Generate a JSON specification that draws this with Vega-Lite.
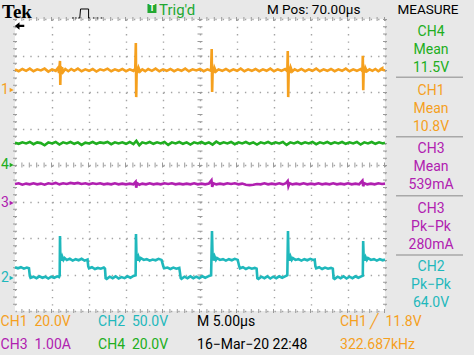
{
"$schema": "https://vega.github.io/schema/vega-lite/v6.json",
"width": 370, "height": 292,
"autosize": {"type": "none"},
"padding": {"left": 15, "top": 19, "right": 89, "bottom": 44},
"background": "#e8e8e8",
"data": {"values": [{}]},
"config": {
  "view": {"fill": "white", "stroke": null},
  "font": "Roboto",
  "legend": {"disable": true},
  "axis": {"grid": true, "labels": false, "ticks": false, "domain": false, "titleOpacity": 0, "gridColor": "#a4a4a4", "gridWidth": 1.4, "gridOpacity": 1},
  "axisX": {"tickCount": 10, "gridDash": [1.4, 5.9]},
  "axisY": {"tickCount": 8, "gridDash": [1.4, 6.0]}
},
"datasets": {
"traces": [
{"ch":"CH1","t":0,"v":2.62},{"ch":"CH1","t":0.5,"v":2.57},{"ch":"CH1","t":1.0,"v":2.63},{"ch":"CH1","t":1.5,"v":2.58},{"ch":"CH1","t":2.0,"v":2.64},{"ch":"CH1","t":2.5,"v":2.57},{"ch":"CH1","t":3.0,"v":2.62},{"ch":"CH1","t":3.5,"v":2.59},{"ch":"CH1","t":4.0,"v":2.64},{"ch":"CH1","t":4.5,"v":2.56},{"ch":"CH1","t":5.0,"v":2.62},{"ch":"CH1","t":5.5,"v":2.58},{"ch":"CH1","t":5.8,"v":2.66},{"ch":"CH1","t":5.95,"v":2.52},{"ch":"CH1","t":6.03,"v":2.72},{"ch":"CH1","t":6.08,"v":2.85},{"ch":"CH1","t":6.12,"v":2.19},{"ch":"CH1","t":6.18,"v":2.70},{"ch":"CH1","t":6.25,"v":2.50},{"ch":"CH1","t":6.35,"v":2.68},{"ch":"CH1","t":6.5,"v":2.55},{"ch":"CH1","t":6.8,"v":2.63},{"ch":"CH1","t":7.2,"v":2.57},{"ch":"CH1","t":7.6,"v":2.63},{"ch":"CH1","t":8.0,"v":2.58},{"ch":"CH1","t":8.5,"v":2.64},{"ch":"CH1","t":9.0,"v":2.57},{"ch":"CH1","t":9.5,"v":2.62},{"ch":"CH1","t":10.0,"v":2.58},{"ch":"CH1","t":10.5,"v":2.63},{"ch":"CH1","t":11.0,"v":2.56},{"ch":"CH1","t":11.5,"v":2.62},{"ch":"CH1","t":12.0,"v":2.59},{"ch":"CH1","t":12.5,"v":2.64},{"ch":"CH1","t":13.0,"v":2.57},{"ch":"CH1","t":13.5,"v":2.62},{"ch":"CH1","t":14.0,"v":2.58},{"ch":"CH1","t":14.5,"v":2.63},{"ch":"CH1","t":15.0,"v":2.57},{"ch":"CH1","t":15.5,"v":2.62},{"ch":"CH1","t":16.0,"v":2.58},{"ch":"CH1","t":16.25,"v":2.64},{"ch":"CH1","t":16.33,"v":3.34},{"ch":"CH1","t":16.38,"v":1.86},{"ch":"CH1","t":16.45,"v":2.70},{"ch":"CH1","t":16.55,"v":2.52},{"ch":"CH1","t":16.7,"v":2.66},{"ch":"CH1","t":16.9,"v":2.56},{"ch":"CH1","t":17.2,"v":2.62},{"ch":"CH1","t":17.6,"v":2.57},{"ch":"CH1","t":18.0,"v":2.63},{"ch":"CH1","t":18.5,"v":2.58},{"ch":"CH1","t":19.0,"v":2.64},{"ch":"CH1","t":19.5,"v":2.57},{"ch":"CH1","t":20.0,"v":2.62},{"ch":"CH1","t":20.5,"v":2.58},{"ch":"CH1","t":21.0,"v":2.63},{"ch":"CH1","t":21.5,"v":2.57},{"ch":"CH1","t":22.0,"v":2.62},{"ch":"CH1","t":22.5,"v":2.58},{"ch":"CH1","t":23.0,"v":2.64},{"ch":"CH1","t":23.5,"v":2.57},{"ch":"CH1","t":24.0,"v":2.62},{"ch":"CH1","t":24.5,"v":2.59},{"ch":"CH1","t":25.0,"v":2.63},{"ch":"CH1","t":25.5,"v":2.57},{"ch":"CH1","t":26.0,"v":2.62},{"ch":"CH1","t":26.5,"v":2.58},{"ch":"CH1","t":26.58,"v":3.18},{"ch":"CH1","t":26.64,"v":2.0},{"ch":"CH1","t":26.72,"v":2.69},{"ch":"CH1","t":26.82,"v":2.52},{"ch":"CH1","t":26.95,"v":2.66},{"ch":"CH1","t":27.15,"v":2.56},{"ch":"CH1","t":27.5,"v":2.62},{"ch":"CH1","t":28.0,"v":2.58},{"ch":"CH1","t":28.5,"v":2.63},{"ch":"CH1","t":29.0,"v":2.57},{"ch":"CH1","t":29.5,"v":2.62},{"ch":"CH1","t":30.0,"v":2.58},{"ch":"CH1","t":30.5,"v":2.64},{"ch":"CH1","t":31.0,"v":2.57},{"ch":"CH1","t":31.5,"v":2.62},{"ch":"CH1","t":32.0,"v":2.58},{"ch":"CH1","t":32.5,"v":2.63},{"ch":"CH1","t":33.0,"v":2.57},{"ch":"CH1","t":33.5,"v":2.62},{"ch":"CH1","t":34.0,"v":2.58},{"ch":"CH1","t":34.5,"v":2.64},{"ch":"CH1","t":35.0,"v":2.57},{"ch":"CH1","t":35.5,"v":2.62},{"ch":"CH1","t":36.0,"v":2.58},{"ch":"CH1","t":36.5,"v":2.63},{"ch":"CH1","t":36.8,"v":2.57},{"ch":"CH1","t":36.86,"v":3.12},{"ch":"CH1","t":36.92,"v":1.86},{"ch":"CH1","t":37.0,"v":2.70},{"ch":"CH1","t":37.1,"v":2.52},{"ch":"CH1","t":37.25,"v":2.67},{"ch":"CH1","t":37.45,"v":2.56},{"ch":"CH1","t":37.8,"v":2.62},{"ch":"CH1","t":38.2,"v":2.58},{"ch":"CH1","t":38.7,"v":2.63},{"ch":"CH1","t":39.2,"v":2.57},{"ch":"CH1","t":39.7,"v":2.62},{"ch":"CH1","t":40.2,"v":2.58},{"ch":"CH1","t":40.7,"v":2.64},{"ch":"CH1","t":41.2,"v":2.57},{"ch":"CH1","t":41.7,"v":2.62},{"ch":"CH1","t":42.2,"v":2.58},{"ch":"CH1","t":42.7,"v":2.63},{"ch":"CH1","t":43.2,"v":2.57},{"ch":"CH1","t":43.7,"v":2.62},{"ch":"CH1","t":44.2,"v":2.58},{"ch":"CH1","t":44.7,"v":2.64},{"ch":"CH1","t":45.2,"v":2.57},{"ch":"CH1","t":45.7,"v":2.62},{"ch":"CH1","t":46.2,"v":2.58},{"ch":"CH1","t":46.7,"v":2.63},{"ch":"CH1","t":46.95,"v":2.57},{"ch":"CH1","t":47.0,"v":2.99},{"ch":"CH1","t":47.06,"v":2.05},{"ch":"CH1","t":47.13,"v":2.69},{"ch":"CH1","t":47.22,"v":2.53},{"ch":"CH1","t":47.35,"v":2.66},{"ch":"CH1","t":47.55,"v":2.57},{"ch":"CH1","t":47.9,"v":2.62},{"ch":"CH1","t":48.3,"v":2.58},{"ch":"CH1","t":48.7,"v":2.63},{"ch":"CH1","t":49.1,"v":2.57},{"ch":"CH1","t":49.5,"v":2.62},{"ch":"CH1","t":50.0,"v":2.59},
{"ch":"CH4","t":0,"v":0.61},{"ch":"CH4","t":0.5,"v":0.58},{"ch":"CH4","t":1.0,"v":0.62},{"ch":"CH4","t":1.5,"v":0.59},{"ch":"CH4","t":2.0,"v":0.63},{"ch":"CH4","t":2.5,"v":0.57},{"ch":"CH4","t":3.0,"v":0.62},{"ch":"CH4","t":3.5,"v":0.60},{"ch":"CH4","t":4.0,"v":0.54},{"ch":"CH4","t":4.5,"v":0.62},{"ch":"CH4","t":5.0,"v":0.59},{"ch":"CH4","t":5.5,"v":0.63},{"ch":"CH4","t":6.0,"v":0.56},{"ch":"CH4","t":6.5,"v":0.62},{"ch":"CH4","t":7.0,"v":0.59},{"ch":"CH4","t":7.5,"v":0.63},{"ch":"CH4","t":8.0,"v":0.58},{"ch":"CH4","t":8.5,"v":0.62},{"ch":"CH4","t":9.0,"v":0.55},{"ch":"CH4","t":9.5,"v":0.61},{"ch":"CH4","t":10.0,"v":0.59},{"ch":"CH4","t":10.5,"v":0.63},{"ch":"CH4","t":11.0,"v":0.58},{"ch":"CH4","t":11.5,"v":0.62},{"ch":"CH4","t":12.0,"v":0.60},{"ch":"CH4","t":12.5,"v":0.63},{"ch":"CH4","t":13.0,"v":0.57},{"ch":"CH4","t":13.5,"v":0.62},{"ch":"CH4","t":14.0,"v":0.59},{"ch":"CH4","t":14.5,"v":0.62},{"ch":"CH4","t":15.0,"v":0.58},{"ch":"CH4","t":15.5,"v":0.63},{"ch":"CH4","t":16.0,"v":0.57},{"ch":"CH4","t":16.4,"v":0.66},{"ch":"CH4","t":16.8,"v":0.54},{"ch":"CH4","t":17.2,"v":0.62},{"ch":"CH4","t":17.7,"v":0.59},{"ch":"CH4","t":18.2,"v":0.63},{"ch":"CH4","t":18.7,"v":0.58},{"ch":"CH4","t":19.2,"v":0.62},{"ch":"CH4","t":19.7,"v":0.59},{"ch":"CH4","t":20.2,"v":0.63},{"ch":"CH4","t":20.7,"v":0.55},{"ch":"CH4","t":21.2,"v":0.62},{"ch":"CH4","t":21.7,"v":0.59},{"ch":"CH4","t":22.2,"v":0.63},{"ch":"CH4","t":22.7,"v":0.58},{"ch":"CH4","t":23.2,"v":0.62},{"ch":"CH4","t":23.7,"v":0.56},{"ch":"CH4","t":24.2,"v":0.62},{"ch":"CH4","t":24.7,"v":0.59},{"ch":"CH4","t":25.2,"v":0.63},{"ch":"CH4","t":25.7,"v":0.58},{"ch":"CH4","t":26.2,"v":0.62},{"ch":"CH4","t":26.7,"v":0.56},{"ch":"CH4","t":27.2,"v":0.64},{"ch":"CH4","t":27.7,"v":0.58},{"ch":"CH4","t":28.2,"v":0.62},{"ch":"CH4","t":28.7,"v":0.59},{"ch":"CH4","t":29.2,"v":0.63},{"ch":"CH4","t":29.7,"v":0.57},{"ch":"CH4","t":30.2,"v":0.62},{"ch":"CH4","t":30.7,"v":0.59},{"ch":"CH4","t":31.2,"v":0.63},{"ch":"CH4","t":31.7,"v":0.58},{"ch":"CH4","t":32.2,"v":0.62},{"ch":"CH4","t":32.7,"v":0.56},{"ch":"CH4","t":33.2,"v":0.62},{"ch":"CH4","t":33.7,"v":0.59},{"ch":"CH4","t":34.2,"v":0.63},{"ch":"CH4","t":34.7,"v":0.58},{"ch":"CH4","t":35.2,"v":0.62},{"ch":"CH4","t":35.7,"v":0.59},{"ch":"CH4","t":36.2,"v":0.63},{"ch":"CH4","t":36.7,"v":0.55},{"ch":"CH4","t":37.2,"v":0.62},{"ch":"CH4","t":37.7,"v":0.59},{"ch":"CH4","t":38.2,"v":0.63},{"ch":"CH4","t":38.7,"v":0.58},{"ch":"CH4","t":39.2,"v":0.62},{"ch":"CH4","t":39.7,"v":0.59},{"ch":"CH4","t":40.2,"v":0.63},{"ch":"CH4","t":40.7,"v":0.57},{"ch":"CH4","t":41.2,"v":0.62},{"ch":"CH4","t":41.7,"v":0.59},{"ch":"CH4","t":42.2,"v":0.63},{"ch":"CH4","t":42.7,"v":0.58},{"ch":"CH4","t":43.2,"v":0.62},{"ch":"CH4","t":43.7,"v":0.59},{"ch":"CH4","t":44.2,"v":0.63},{"ch":"CH4","t":44.7,"v":0.58},{"ch":"CH4","t":45.2,"v":0.62},{"ch":"CH4","t":45.7,"v":0.59},{"ch":"CH4","t":46.2,"v":0.63},{"ch":"CH4","t":46.7,"v":0.56},{"ch":"CH4","t":47.2,"v":0.62},{"ch":"CH4","t":47.7,"v":0.59},{"ch":"CH4","t":48.2,"v":0.63},{"ch":"CH4","t":48.7,"v":0.58},{"ch":"CH4","t":49.2,"v":0.62},{"ch":"CH4","t":49.7,"v":0.59},{"ch":"CH4","t":50.0,"v":0.61},
{"ch":"CH3","t":0,"v":-0.52},{"ch":"CH3","t":0.5,"v":-0.50},{"ch":"CH3","t":1.0,"v":-0.54},{"ch":"CH3","t":1.5,"v":-0.51},{"ch":"CH3","t":2.0,"v":-0.53},{"ch":"CH3","t":2.5,"v":-0.50},{"ch":"CH3","t":3.0,"v":-0.53},{"ch":"CH3","t":3.5,"v":-0.51},{"ch":"CH3","t":4.0,"v":-0.54},{"ch":"CH3","t":4.5,"v":-0.50},{"ch":"CH3","t":5.0,"v":-0.52},{"ch":"CH3","t":5.5,"v":-0.49},{"ch":"CH3","t":6.0,"v":-0.53},{"ch":"CH3","t":6.5,"v":-0.50},{"ch":"CH3","t":7.0,"v":-0.52},{"ch":"CH3","t":7.5,"v":-0.49},{"ch":"CH3","t":8.0,"v":-0.51},{"ch":"CH3","t":8.5,"v":-0.49},{"ch":"CH3","t":9.0,"v":-0.52},{"ch":"CH3","t":9.5,"v":-0.50},{"ch":"CH3","t":10.0,"v":-0.53},{"ch":"CH3","t":10.5,"v":-0.50},{"ch":"CH3","t":11.0,"v":-0.52},{"ch":"CH3","t":11.5,"v":-0.50},{"ch":"CH3","t":12.0,"v":-0.53},{"ch":"CH3","t":12.5,"v":-0.51},{"ch":"CH3","t":13.0,"v":-0.53},{"ch":"CH3","t":13.5,"v":-0.50},{"ch":"CH3","t":14.0,"v":-0.53},{"ch":"CH3","t":14.5,"v":-0.51},{"ch":"CH3","t":15.0,"v":-0.53},{"ch":"CH3","t":15.5,"v":-0.51},{"ch":"CH3","t":16.0,"v":-0.53},{"ch":"CH3","t":16.3,"v":-0.46},{"ch":"CH3","t":16.38,"v":-0.62},{"ch":"CH3","t":16.5,"v":-0.50},{"ch":"CH3","t":16.8,"v":-0.54},{"ch":"CH3","t":17.2,"v":-0.51},{"ch":"CH3","t":17.7,"v":-0.53},{"ch":"CH3","t":18.2,"v":-0.50},{"ch":"CH3","t":18.7,"v":-0.53},{"ch":"CH3","t":19.2,"v":-0.51},{"ch":"CH3","t":19.7,"v":-0.53},{"ch":"CH3","t":20.2,"v":-0.50},{"ch":"CH3","t":20.7,"v":-0.52},{"ch":"CH3","t":21.2,"v":-0.50},{"ch":"CH3","t":21.7,"v":-0.53},{"ch":"CH3","t":22.2,"v":-0.51},{"ch":"CH3","t":22.7,"v":-0.53},{"ch":"CH3","t":23.2,"v":-0.51},{"ch":"CH3","t":23.7,"v":-0.53},{"ch":"CH3","t":24.2,"v":-0.50},{"ch":"CH3","t":24.7,"v":-0.53},{"ch":"CH3","t":25.2,"v":-0.51},{"ch":"CH3","t":25.7,"v":-0.53},{"ch":"CH3","t":26.2,"v":-0.51},{"ch":"CH3","t":26.55,"v":-0.42},{"ch":"CH3","t":26.65,"v":-0.60},{"ch":"CH3","t":26.8,"v":-0.50},{"ch":"CH3","t":27.2,"v":-0.53},{"ch":"CH3","t":27.7,"v":-0.51},{"ch":"CH3","t":28.2,"v":-0.53},{"ch":"CH3","t":28.7,"v":-0.50},{"ch":"CH3","t":29.2,"v":-0.52},{"ch":"CH3","t":29.7,"v":-0.50},{"ch":"CH3","t":30.2,"v":-0.53},{"ch":"CH3","t":30.7,"v":-0.51},{"ch":"CH3","t":31.2,"v":-0.54},{"ch":"CH3","t":31.7,"v":-0.55},{"ch":"CH3","t":32.2,"v":-0.54},{"ch":"CH3","t":32.7,"v":-0.52},{"ch":"CH3","t":33.2,"v":-0.53},{"ch":"CH3","t":33.7,"v":-0.50},{"ch":"CH3","t":34.2,"v":-0.53},{"ch":"CH3","t":34.7,"v":-0.51},{"ch":"CH3","t":35.2,"v":-0.53},{"ch":"CH3","t":35.7,"v":-0.50},{"ch":"CH3","t":36.2,"v":-0.53},{"ch":"CH3","t":36.6,"v":-0.50},{"ch":"CH3","t":36.85,"v":-0.44},{"ch":"CH3","t":36.95,"v":-0.58},{"ch":"CH3","t":37.1,"v":-0.50},{"ch":"CH3","t":37.5,"v":-0.53},{"ch":"CH3","t":38.0,"v":-0.51},{"ch":"CH3","t":38.5,"v":-0.53},{"ch":"CH3","t":39.0,"v":-0.50},{"ch":"CH3","t":39.5,"v":-0.53},{"ch":"CH3","t":40.0,"v":-0.51},{"ch":"CH3","t":40.5,"v":-0.53},{"ch":"CH3","t":41.0,"v":-0.50},{"ch":"CH3","t":41.5,"v":-0.53},{"ch":"CH3","t":42.0,"v":-0.51},{"ch":"CH3","t":42.5,"v":-0.53},{"ch":"CH3","t":43.0,"v":-0.50},{"ch":"CH3","t":43.5,"v":-0.53},{"ch":"CH3","t":44.0,"v":-0.51},{"ch":"CH3","t":44.5,"v":-0.53},{"ch":"CH3","t":45.0,"v":-0.50},{"ch":"CH3","t":45.5,"v":-0.53},{"ch":"CH3","t":46.0,"v":-0.51},{"ch":"CH3","t":46.5,"v":-0.53},{"ch":"CH3","t":46.95,"v":-0.43},{"ch":"CH3","t":47.05,"v":-0.58},{"ch":"CH3","t":47.2,"v":-0.50},{"ch":"CH3","t":47.6,"v":-0.53},{"ch":"CH3","t":48.1,"v":-0.51},{"ch":"CH3","t":48.6,"v":-0.53},{"ch":"CH3","t":49.1,"v":-0.50},{"ch":"CH3","t":49.6,"v":-0.52},{"ch":"CH3","t":50.0,"v":-0.51},
{"ch":"CH2","t":0,"v":-2.80},{"ch":"CH2","t":0.4,"v":-2.83},{"ch":"CH2","t":0.8,"v":-2.80},{"ch":"CH2","t":1.2,"v":-2.84},{"ch":"CH2","t":1.6,"v":-2.81},{"ch":"CH2","t":1.89,"v":-2.83},{"ch":"CH2","t":2.0,"v":-3.04},{"ch":"CH2","t":2.1,"v":-3.09},{"ch":"CH2","t":2.5,"v":-3.06},{"ch":"CH2","t":2.9,"v":-3.10},{"ch":"CH2","t":3.3,"v":-3.05},{"ch":"CH2","t":3.7,"v":-3.09},{"ch":"CH2","t":4.1,"v":-3.06},{"ch":"CH2","t":4.5,"v":-3.11},{"ch":"CH2","t":4.9,"v":-3.06},{"ch":"CH2","t":5.3,"v":-3.09},{"ch":"CH2","t":5.7,"v":-3.05},{"ch":"CH2","t":5.95,"v":-3.07},{"ch":"CH2","t":6.04,"v":-3.02},{"ch":"CH2","t":6.08,"v":-1.945},{"ch":"CH2","t":6.13,"v":-2.55},{"ch":"CH2","t":6.2,"v":-2.45},{"ch":"CH2","t":6.3,"v":-2.62},{"ch":"CH2","t":6.4,"v":-2.52},{"ch":"CH2","t":6.55,"v":-2.60},{"ch":"CH2","t":6.7,"v":-2.55},{"ch":"CH2","t":7.0,"v":-2.60},{"ch":"CH2","t":7.4,"v":-2.57},{"ch":"CH2","t":7.8,"v":-2.62},{"ch":"CH2","t":8.2,"v":-2.58},{"ch":"CH2","t":8.6,"v":-2.61},{"ch":"CH2","t":9.0,"v":-2.57},{"ch":"CH2","t":9.4,"v":-2.62},{"ch":"CH2","t":9.8,"v":-2.59},{"ch":"CH2","t":9.9,"v":-2.78},{"ch":"CH2","t":10.0,"v":-2.83},{"ch":"CH2","t":10.4,"v":-2.80},{"ch":"CH2","t":10.8,"v":-2.85},{"ch":"CH2","t":11.2,"v":-2.82},{"ch":"CH2","t":11.6,"v":-2.84},{"ch":"CH2","t":12.0,"v":-2.81},{"ch":"CH2","t":12.16,"v":-2.84},{"ch":"CH2","t":12.25,"v":-3.10},{"ch":"CH2","t":12.4,"v":-3.12},{"ch":"CH2","t":12.8,"v":-3.06},{"ch":"CH2","t":13.2,"v":-3.10},{"ch":"CH2","t":13.6,"v":-3.05},{"ch":"CH2","t":14.0,"v":-3.11},{"ch":"CH2","t":14.4,"v":-3.07},{"ch":"CH2","t":14.8,"v":-3.10},{"ch":"CH2","t":15.2,"v":-3.05},{"ch":"CH2","t":15.6,"v":-3.09},{"ch":"CH2","t":16.0,"v":-3.04},{"ch":"CH2","t":16.3,"v":-3.02},{"ch":"CH2","t":16.35,"v":-1.89},{"ch":"CH2","t":16.42,"v":-2.56},{"ch":"CH2","t":16.5,"v":-2.44},{"ch":"CH2","t":16.6,"v":-2.62},{"ch":"CH2","t":16.7,"v":-2.52},{"ch":"CH2","t":16.85,"v":-2.60},{"ch":"CH2","t":17.0,"v":-2.55},{"ch":"CH2","t":17.4,"v":-2.60},{"ch":"CH2","t":17.8,"v":-2.58},{"ch":"CH2","t":18.2,"v":-2.62},{"ch":"CH2","t":18.6,"v":-2.59},{"ch":"CH2","t":19.0,"v":-2.61},{"ch":"CH2","t":19.4,"v":-2.57},{"ch":"CH2","t":19.8,"v":-2.60},{"ch":"CH2","t":20.05,"v":-2.78},{"ch":"CH2","t":20.15,"v":-2.83},{"ch":"CH2","t":20.6,"v":-2.81},{"ch":"CH2","t":21.0,"v":-2.85},{"ch":"CH2","t":21.4,"v":-2.81},{"ch":"CH2","t":21.8,"v":-2.84},{"ch":"CH2","t":22.2,"v":-2.82},{"ch":"CH2","t":22.4,"v":-3.10},{"ch":"CH2","t":22.5,"v":-3.12},{"ch":"CH2","t":22.9,"v":-3.06},{"ch":"CH2","t":23.3,"v":-3.10},{"ch":"CH2","t":23.7,"v":-3.05},{"ch":"CH2","t":24.1,"v":-3.10},{"ch":"CH2","t":24.5,"v":-3.06},{"ch":"CH2","t":24.9,"v":-3.10},{"ch":"CH2","t":25.3,"v":-3.05},{"ch":"CH2","t":25.7,"v":-3.09},{"ch":"CH2","t":26.1,"v":-3.05},{"ch":"CH2","t":26.5,"v":-3.02},{"ch":"CH2","t":26.62,"v":-1.81},{"ch":"CH2","t":26.7,"v":-2.55},{"ch":"CH2","t":26.78,"v":-2.42},{"ch":"CH2","t":26.9,"v":-2.62},{"ch":"CH2","t":27.0,"v":-2.52},{"ch":"CH2","t":27.15,"v":-2.60},{"ch":"CH2","t":27.3,"v":-2.55},{"ch":"CH2","t":27.7,"v":-2.60},{"ch":"CH2","t":28.1,"v":-2.58},{"ch":"CH2","t":28.5,"v":-2.62},{"ch":"CH2","t":28.9,"v":-2.58},{"ch":"CH2","t":29.3,"v":-2.61},{"ch":"CH2","t":29.7,"v":-2.57},{"ch":"CH2","t":30.1,"v":-2.60},{"ch":"CH2","t":30.3,"v":-2.78},{"ch":"CH2","t":30.4,"v":-2.83},{"ch":"CH2","t":30.8,"v":-2.80},{"ch":"CH2","t":31.2,"v":-2.85},{"ch":"CH2","t":31.6,"v":-2.81},{"ch":"CH2","t":32.0,"v":-2.84},{"ch":"CH2","t":32.4,"v":-2.82},{"ch":"CH2","t":32.65,"v":-2.84},{"ch":"CH2","t":32.75,"v":-3.10},{"ch":"CH2","t":32.9,"v":-3.12},{"ch":"CH2","t":33.3,"v":-3.06},{"ch":"CH2","t":33.7,"v":-3.10},{"ch":"CH2","t":34.1,"v":-3.05},{"ch":"CH2","t":34.5,"v":-3.11},{"ch":"CH2","t":34.9,"v":-3.06},{"ch":"CH2","t":35.3,"v":-3.10},{"ch":"CH2","t":35.7,"v":-3.05},{"ch":"CH2","t":36.1,"v":-3.09},{"ch":"CH2","t":36.5,"v":-3.05},{"ch":"CH2","t":36.8,"v":-3.02},{"ch":"CH2","t":36.89,"v":-1.81},{"ch":"CH2","t":36.96,"v":-2.55},{"ch":"CH2","t":37.05,"v":-2.43},{"ch":"CH2","t":37.15,"v":-2.62},{"ch":"CH2","t":37.25,"v":-2.52},{"ch":"CH2","t":37.4,"v":-2.60},{"ch":"CH2","t":37.55,"v":-2.55},{"ch":"CH2","t":37.9,"v":-2.60},{"ch":"CH2","t":38.3,"v":-2.58},{"ch":"CH2","t":38.7,"v":-2.62},{"ch":"CH2","t":39.1,"v":-2.58},{"ch":"CH2","t":39.5,"v":-2.61},{"ch":"CH2","t":39.9,"v":-2.57},{"ch":"CH2","t":40.3,"v":-2.60},{"ch":"CH2","t":40.5,"v":-2.59},{"ch":"CH2","t":40.6,"v":-2.78},{"ch":"CH2","t":40.7,"v":-2.83},{"ch":"CH2","t":41.1,"v":-2.80},{"ch":"CH2","t":41.5,"v":-2.85},{"ch":"CH2","t":41.9,"v":-2.81},{"ch":"CH2","t":42.3,"v":-2.84},{"ch":"CH2","t":42.7,"v":-2.82},{"ch":"CH2","t":42.95,"v":-2.84},{"ch":"CH2","t":43.05,"v":-3.10},{"ch":"CH2","t":43.2,"v":-3.12},{"ch":"CH2","t":43.6,"v":-3.06},{"ch":"CH2","t":44.0,"v":-3.10},{"ch":"CH2","t":44.4,"v":-3.05},{"ch":"CH2","t":44.8,"v":-3.11},{"ch":"CH2","t":45.2,"v":-3.06},{"ch":"CH2","t":45.6,"v":-3.10},{"ch":"CH2","t":46.0,"v":-3.05},{"ch":"CH2","t":46.4,"v":-3.09},{"ch":"CH2","t":46.8,"v":-3.05},{"ch":"CH2","t":47.0,"v":-3.03},{"ch":"CH2","t":47.05,"v":-2.08},{"ch":"CH2","t":47.12,"v":-2.56},{"ch":"CH2","t":47.2,"v":-2.46},{"ch":"CH2","t":47.3,"v":-2.62},{"ch":"CH2","t":47.4,"v":-2.53},{"ch":"CH2","t":47.55,"v":-2.60},{"ch":"CH2","t":47.7,"v":-2.55},{"ch":"CH2","t":48.1,"v":-2.60},{"ch":"CH2","t":48.5,"v":-2.58},{"ch":"CH2","t":48.9,"v":-2.62},{"ch":"CH2","t":49.3,"v":-2.58},{"ch":"CH2","t":49.7,"v":-2.61},{"ch":"CH2","t":50.0,"v":-2.59}
],
"gnd": [
{"ch":"CH1","lab":"1","v":2.055},{"ch":"CH4","lab":"4","v":0},{"ch":"CH3","lab":"3","v":-1.041},{"ch":"CH2","lab":"2","v":-3.096}
]
},
"layer": [
{"mark": {"type": "rule", "color": "#9a9a9a", "strokeWidth": 5, "strokeDash": [1, 6.3]}, "encoding": {"x": {"datum": 25}}},
{"mark": {"type": "rule", "color": "#9a9a9a", "strokeWidth": 5, "strokeDash": [1, 6.4]}, "encoding": {"y": {"datum": 0}}},
{"mark": {"type": "rule", "color": "#9a9a9a", "strokeWidth": 4, "strokeDash": [1, 6.3]}, "encoding": {"x": {"datum": 0}}},
{"mark": {"type": "rule", "color": "#9a9a9a", "strokeWidth": 4, "strokeDash": [1, 6.3]}, "encoding": {"x": {"datum": 50}}},
{"mark": {"type": "rule", "color": "#9a9a9a", "strokeWidth": 4, "strokeDash": [1, 6.4]}, "encoding": {"y": {"datum": 4}}},
{"mark": {"type": "rule", "color": "#9a9a9a", "strokeWidth": 4, "strokeDash": [1, 6.4]}, "encoding": {"y": {"datum": -4}}},
{"data": {"name": "traces"},
 "mark": {"type": "line", "strokeWidth": 2.6},
 "encoding": {
  "x": {"field": "t", "type": "quantitative", "scale": {"domain": [0, 50], "nice": false, "zero": false}, "title": null},
  "y": {"field": "v", "type": "quantitative", "scale": {"domain": [-4, 4], "nice": false, "zero": false}, "title": null},
  "color": {"field": "ch", "type": "nominal", "scale": {"domain": ["CH1", "CH2", "CH3", "CH4", "scope"], "range": ["#f5a01e", "#1fb8bc", "#b020b0", "#20ae20", "#000000"]}},
  "detail": {"field": "ch"}
 }},
{"data": {"name": "gnd"},
 "mark": {"type": "text", "align": "center", "baseline": "middle", "fontSize": 14},
 "encoding": {"x": {"datum": -1.35}, "y": {"field": "v", "type": "quantitative", "title": null}, "text": {"field": "lab"}, "color": {"field": "ch", "type": "nominal"}}},
{"data": {"name": "gnd"},
 "mark": {"type": "point", "shape": "triangle-right", "filled": true, "size": 22, "opacity": 1},
 "encoding": {"x": {"datum": -0.45}, "y": {"field": "v", "type": "quantitative", "title": null}, "color": {"field": "ch", "type": "nominal"}}},
{"mark": {"type": "point", "shape": "triangle-left", "filled": true, "size": 26, "opacity": 1},
 "encoding": {"x": {"datum": 49.5}, "y": {"datum": 2.645}, "color": {"datum": "CH1", "type": "nominal"}}},
{"mark": {"type": "point", "shape": "M-1,0L0,-0.8V-0.25H1V0.25H0V0.8Z", "filled": true, "size": 90, "color": "black", "opacity": 1},
 "encoding": {"x": {"datum": 0.61}, "y": {"datum": 3.81}}},
{"mark": {"type": "text", "text": "Tek", "align": "left", "baseline": "middle", "font": "Liberation Serif", "fontWeight": "bold", "fontSize": 19, "color": "black"},
 "encoding": {"x": {"datum": -1.76}, "y": {"datum": 4.2}}},
{"mark": {"type": "point", "shape": "M-1,0.29h0.1M-0.8,0.29h0.1M-0.6,0.29h0.1L-0.45,-0.29H0.07V0.29h0.1M0.35,0.29h0.1M0.6,0.29h0.1M0.85,0.29h0.1", "filled": false, "size": 961, "stroke": "black", "strokeWidth": 1, "opacity": 1},
 "encoding": {"x": {"datum": 9.8}, "y": {"datum": 4.151}}},
{"mark": {"type": "point", "shape": "square", "filled": true, "size": 81, "color": "#22a832", "opacity": 1},
 "encoding": {"x": {"datum": 18.51}, "y": {"datum": 4.288}}},
{"mark": {"type": "text", "text": "T", "align": "center", "baseline": "middle", "fontSize": 9, "fontWeight": "bold", "color": "white"},
 "encoding": {"x": {"datum": 18.51}, "y": {"datum": 4.288}}},
{"mark": {"type": "text", "text": "Trig'd", "align": "left", "baseline": "middle", "fontSize": 15, "color": "#22a832"},
 "encoding": {"x": {"datum": 19.46}, "y": {"datum": 4.26}}},
{"mark": {"type": "text", "text": "M Pos: 70.00µs", "align": "left", "baseline": "middle", "fontSize": 13.5, "color": "black"},
 "encoding": {"x": {"datum": 34.05}, "y": {"datum": 4.247}}},
{"mark": {"type": "text", "text": "MEASURE", "align": "center", "baseline": "middle", "fontSize": 13.5, "color": "black"},
 "encoding": {"x": {"datum": 55.81}, "y": {"datum": 4.247}}},
{"mark": {"type": "text", "text": ["CH4", "Mean", "11.5V"], "align": "center", "baseline": "middle", "fontSize": 14, "lineHeight": 18},
 "encoding": {"x": {"datum": 56.22}, "y": {"datum": 3.644}, "color": {"datum": "CH4", "type": "nominal"}}},
{"mark": {"type": "text", "text": ["CH1", "Mean", "10.8V"], "align": "center", "baseline": "middle", "fontSize": 14, "lineHeight": 18},
 "encoding": {"x": {"datum": 56.22}, "y": {"datum": 2.036}, "color": {"datum": "CH1", "type": "nominal"}}},
{"mark": {"type": "text", "text": ["CH3", "Mean", "539mA"], "align": "center", "baseline": "middle", "fontSize": 14, "lineHeight": 18},
 "encoding": {"x": {"datum": 56.22}, "y": {"datum": 0.43}, "color": {"datum": "CH3", "type": "nominal"}}},
{"mark": {"type": "text", "text": ["CH3", "Pk−Pk", "280mA"], "align": "center", "baseline": "middle", "fontSize": 14, "lineHeight": 18},
 "encoding": {"x": {"datum": 56.22}, "y": {"datum": -1.205}, "color": {"datum": "CH3", "type": "nominal"}}},
{"mark": {"type": "text", "text": ["CH2", "Pk−Pk", "64.0V"], "align": "center", "baseline": "middle", "fontSize": 14, "lineHeight": 18},
 "encoding": {"x": {"datum": 56.22}, "y": {"datum": -2.786}, "color": {"datum": "CH2", "type": "nominal"}}},
{"mark": {"type": "rule", "color": "#a8a8a8", "strokeWidth": 1.5}, "encoding": {"x": {"datum": 51.49}, "x2": {"datum": 60.54}, "y": {"datum": 2.403}}},
{"mark": {"type": "rule", "color": "#a8a8a8", "strokeWidth": 1.5}, "encoding": {"x": {"datum": 51.49}, "x2": {"datum": 60.54}, "y": {"datum": 0.775}}},
{"mark": {"type": "rule", "color": "#a8a8a8", "strokeWidth": 1.5}, "encoding": {"x": {"datum": 51.49}, "x2": {"datum": 60.54}, "y": {"datum": -0.841}}},
{"mark": {"type": "rule", "color": "#a8a8a8", "strokeWidth": 1.5}, "encoding": {"x": {"datum": 51.49}, "x2": {"datum": 60.54}, "y": {"datum": -2.466}}},
{"mark": {"type": "text", "text": "CH1\u00a0\u00a020.0V", "align": "left", "baseline": "middle", "fontSize": 14},
 "encoding": {"x": {"datum": -1.95}, "y": {"datum": -4.301}, "color": {"datum": "CH1", "type": "nominal"}}},
{"mark": {"type": "text", "text": "CH3\u00a0\u00a01.00A", "align": "left", "baseline": "middle", "fontSize": 14},
 "encoding": {"x": {"datum": -1.95}, "y": {"datum": -4.932}, "color": {"datum": "CH3", "type": "nominal"}}},
{"mark": {"type": "text", "text": "CH2\u00a0\u00a050.0V", "align": "left", "baseline": "middle", "fontSize": 14},
 "encoding": {"x": {"datum": 11.22}, "y": {"datum": -4.301}, "color": {"datum": "CH2", "type": "nominal"}}},
{"mark": {"type": "text", "text": "CH4\u00a0\u00a020.0V", "align": "left", "baseline": "middle", "fontSize": 14},
 "encoding": {"x": {"datum": 11.22}, "y": {"datum": -4.932}, "color": {"datum": "CH4", "type": "nominal"}}},
{"mark": {"type": "text", "text": ["M 5.00µs", "16−Mar−20 22:48"], "align": "left", "baseline": "middle", "fontSize": 14, "lineHeight": 23},
 "encoding": {"x": {"datum": 24.6}, "y": {"datum": -4.301}, "color": {"datum": "scope", "type": "nominal"}}},
{"mark": {"type": "text", "text": ["CH1\u00a0╱\u00a0\u00a011.8V", "322.687kHz"], "align": "left", "baseline": "middle", "fontSize": 14, "lineHeight": 23},
 "encoding": {"x": {"datum": 43.92}, "y": {"datum": -4.301}, "color": {"datum": "CH1", "type": "nominal"}}}
]
}
